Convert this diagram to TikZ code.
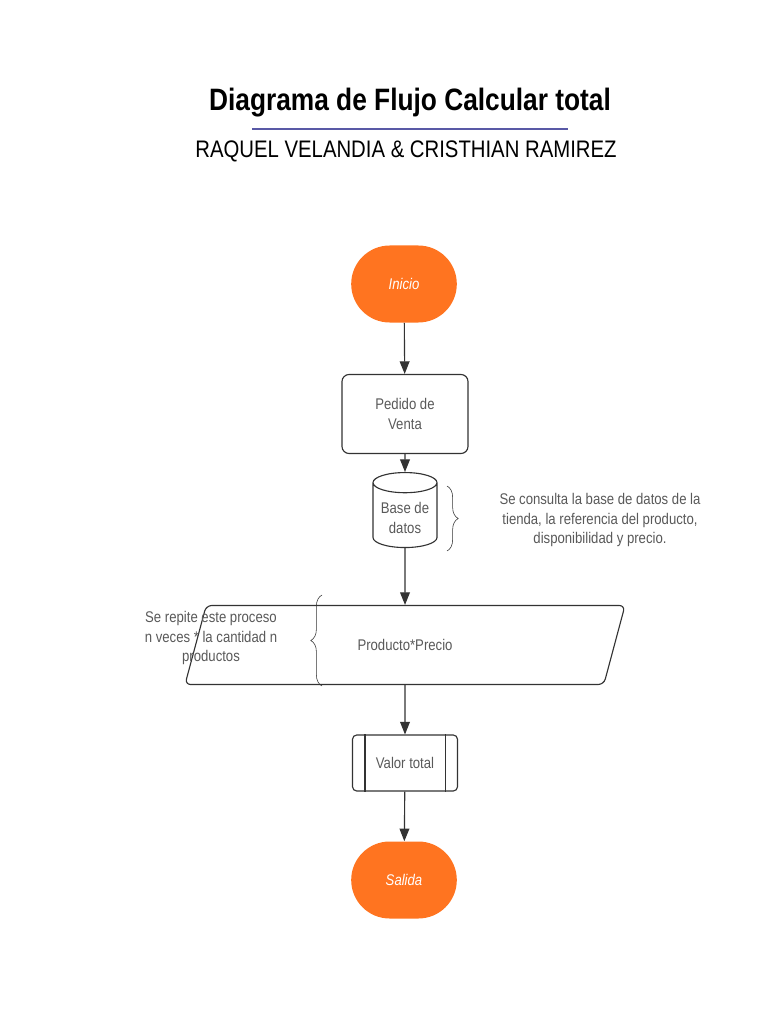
\documentclass[tikz,border=0pt]{standalone}
\usepackage{fontspec}
\setmainfont{Liberation Sans}[FakeStretch=0.85]
\usetikzlibrary{shapes.geometric,shapes.misc,arrows.meta,decorations.pathreplacing}
\definecolor{naranja}{HTML}{FF7420}
\definecolor{texto}{HTML}{595959}
\definecolor{flecha}{HTML}{333333}
\tikzstyle{arrow} = [thick,draw=flecha,-{Triangle[length=9pt,width=7pt]}]
\tikzstyle{terminal} = [rounded rectangle, fill=naranja, minimum width=115*0.025cm, minimum height=77*0.025cm, text=white, font=\itshape\fontsize{11}{13}\selectfont]
\tikzstyle{caja} = [draw=flecha, thick, align=center, text=texto, font=\fontsize{11}{14}\selectfont]
\tikzstyle{nota} = [align=center, text=texto, font=\fontsize{11}{14}\selectfont]
\tikzstyle{llave} = [draw=flecha, decorate, decoration={brace, amplitude=8pt}]

\begin{document}
\begin{tikzpicture}[x=0.025cm,y=-0.025cm]
    \useasboundingbox (0,0) rectangle (768,1024);
    \node (titulo) at (410,103) {\bfseries\fontsize{22}{26}\selectfont Diagrama de Flujo Calcular total};
    \draw[color=gray!70!blue, thick] (252,129) -- (568,129);
    \node (autores) at (406,151) {\fontsize{17}{20}\selectfont RAQUEL VELANDIA \& CRISTHIAN RAMIREZ};

    \node (inicio) [terminal] at (404,284) {Inicio};
    \node (pedido) [caja, rounded corners=5pt, minimum width=126*0.025cm, minimum height=79*0.025cm] at (405,414) {Pedido de\\Venta};
    \node (bd) [caja, cylinder, shape border rotate=90, shape aspect=0.35, minimum width=64*0.025cm, minimum height=75*0.025cm] at (405,518) {Base de\\datos};
    \node (producto) [caja, trapezium, trapezium left angle=75, trapezium right angle=105, rounded corners=4pt, minimum width=120*0.025cm, minimum height=79*0.025cm] at (405,645) {Producto*Precio};
    \node (valor) [caja, rounded corners=3pt, minimum width=105*0.025cm, minimum height=56*0.025cm] at (405,763) {Valor total};
    \draw[draw=flecha, thick] ([xshift=13*0.025cm]valor.north west) -- ([xshift=13*0.025cm]valor.south west);
    \draw[draw=flecha, thick] ([xshift=-13*0.025cm]valor.north east) -- ([xshift=-13*0.025cm]valor.south east);
    \node (salida) [terminal] at (404,880) {Salida};

    \draw [llave] (447,486) -- (447,551);
    \node (nota_bd) [nota] at (600,520) {Se consulta la base de datos de la\\tienda, la referencia del producto,\\disponibilidad y precio.};
    \draw [llave] (322,686) -- (322,595);
    \node (nota_prod) [nota] at (211,638) {Se repite este proceso\\n veces * la cantidad n\\productos};

    \draw [arrow] (inicio) -- (pedido);
    \draw [arrow] (pedido) -- (bd);
    \draw [arrow] (bd) -- (producto);
    \draw [arrow] (producto) -- (valor);
    \draw [arrow] (valor) -- (salida);
\end{tikzpicture}
\end{document}
